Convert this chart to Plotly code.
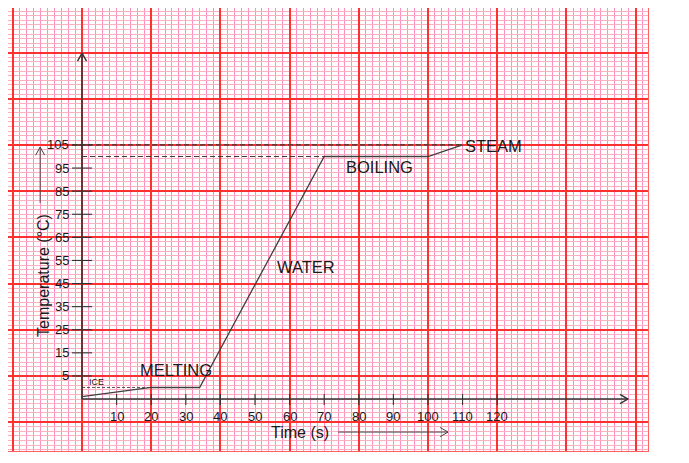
import plotly.graph_objects as go

# --- heating curve of water ---
time_s = [0, 20, 34, 70, 100, 110]
temp_c = [-4, 0, 0, 100, 100, 105]

x_ticks = [10, 20, 30, 40, 50, 60, 70, 80, 90, 100, 110, 120]
y_ticks = [5, 15, 25, 35, 45, 55, 65, 75, 85, 95, 105]

phase_names = ['ICE', 'MELTING', 'WATER', 'BOILING', 'STEAM']
phase_x = [4.3, 27.2, 64.7, 86.1, 118.8]
phase_y = [2.4, 7.6, 52.2, 95.5, 104.5]
phase_size = [9, 16.5, 16.5, 16.5, 16.5]

# axis placement
x_axis_at = -5      # temperature where the time axis is drawn
x_end = 157.8       # arrow tip of time axis
y_end = 144.8       # arrow tip of temperature axis

INK = '#3a3a3a'
TXT = '#1a1a1a'
FONT = 'Arial, Liberation Sans, sans-serif'

fig = go.Figure()


def seg(xs, ys, color=INK, width=1.2, dash='solid'):
    fig.add_trace(go.Scatter(
        x=xs, y=ys, mode='lines',
        line=dict(color=color, width=width, dash=dash),
        hoverinfo='skip', showlegend=False
    ))


# --- dashed guide lines ---
seg([-2.9, time_s[-1]], [temp_c[-1], temp_c[-1]], dash='5px,3px')
seg([0, time_s[3]], [temp_c[3], temp_c[3]], dash='5px,3px')
seg([0, time_s[1]], [temp_c[1], temp_c[1]], color='#555555', width=1, dash='3px,2px')

# --- axes ---
seg([0, x_end], [x_axis_at, x_axis_at], color='#333333', width=1.4)
seg([0, 0], [x_axis_at, y_end], color='#333333', width=1.4)
# arrow heads (open chevrons)
seg([x_end - 2.3, x_end, x_end - 2.3], [x_axis_at + 2, x_axis_at, x_axis_at - 2], color='#333333', width=1.4)
seg([-1.3, 0, 1.3], [y_end - 3.5, y_end, y_end - 3.5], color='#333333', width=1.4)

# tick marks
tx, ty = [], []
for t in x_ticks:
    tx += [t, t, None]
    ty += [x_axis_at + 2.2, x_axis_at - 2.6, None]
for t in y_ticks:
    tx += [-2.9, 2.9, None]
    ty += [t, t, None]
seg(tx, ty, color='#333333', width=1.1)

# --- label arrows ---
seg([74, 105.8], [-19.3, -19.3], color='#444444', width=1)
seg([103.5, 105.8, 103.5], [-17.3, -19.3, -21.3], color='#444444', width=1)
seg([-12.1, -12.1], [79.9, 104.1], color='#444444', width=1)
seg([-13.4, -12.1, -10.8], [100.6, 104.1, 100.6], color='#444444', width=1)

# --- heating curve ---
fig.add_trace(go.Scatter(
    x=time_s, y=temp_c, mode='lines',
    line=dict(color='#404040', width=1.3),
    hoverinfo='skip', showlegend=False
))

# --- text ---
ann = []
for t in x_ticks:
    ann.append(dict(x=t, y=x_axis_at, text=str(t), showarrow=False,
                    xanchor='center', yanchor='top', yshift=-8,
                    font=dict(family=FONT, size=13, color=TXT)))
for t in y_ticks:
    ann.append(dict(x=0, y=t, text=str(t), showarrow=False,
                    xanchor='right', yanchor='middle', xshift=-11,
                    font=dict(family=FONT, size=13, color=TXT)))
for name, px, py, fs in zip(phase_names, phase_x, phase_y, phase_size):
    ann.append(dict(x=px, y=py, text=name, showarrow=False,
                    xanchor='center', yanchor='middle',
                    font=dict(family=FONT, size=fs, color=TXT)))
ann.append(dict(x=63, y=-19.3, text='Time (s)', showarrow=False,
                xanchor='center', yanchor='middle',
                font=dict(family=FONT, size=16, color=TXT)))
ann.append(dict(x=-11.3, y=48.7, text='Temperature (°C)', showarrow=False,
                textangle=-90, xanchor='center', yanchor='middle',
                font=dict(family=FONT, size=16, color=TXT)))

# --- graph paper via the axis grids ---
# (the page body adds an 8px offset, so the figure is 8px smaller)
fig.update_layout(
    width=681, height=455,
    margin=dict(l=0, r=41, t=0, b=12),
    paper_bgcolor='white', plot_bgcolor='white',
    annotations=ann,
    xaxis=dict(
        range=[-21.4, 163.6], tick0=0, dtick=20,
        showgrid=True, gridcolor='#ff3030', gridwidth=1.5,
        minor=dict(tick0=0, dtick=2, showgrid=True, gridcolor='#ff8ec4', gridwidth=1),
        showticklabels=False, ticks='', zeroline=False,
        showline=True, linecolor='#ff6060', mirror=True, linewidth=1,
        fixedrange=True
    ),
    yaxis=dict(
        range=[-27.5, 164.3], tick0=5, dtick=20,
        showgrid=True, gridcolor='#ff3030', gridwidth=1.5,
        minor=dict(tick0=5, dtick=2, showgrid=True, gridcolor='#ffb0c0', gridwidth=1),
        showticklabels=False, ticks='', zeroline=False,
        showline=True, linecolor='#ff6060', mirror=True, linewidth=1,
        fixedrange=True
    ),
)

fig.write_html("out.html")
